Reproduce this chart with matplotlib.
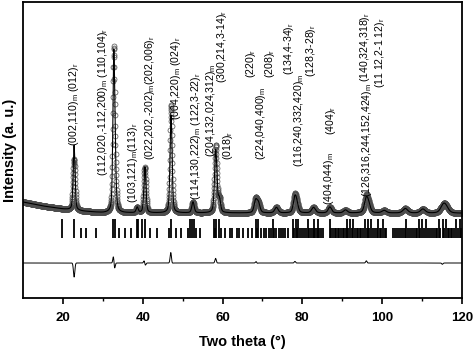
import numpy as np
import matplotlib
matplotlib.use("Agg")
import matplotlib.pyplot as plt

plt.rcParams['font.family'] = ['Liberation Sans', 'DejaVu Sans']
plt.rcParams['mathtext.default'] = 'regular'

# background (2theta, intensity)
bg_x = [10, 15, 20, 25, 30, 40, 60, 80, 100, 120]
bg_y = [960, 920, 890, 868, 852, 850, 850, 850, 850, 848]

# reflections seen in the pattern: position, height above background, fwhm
peak_pos = [22.8, 32.75, 33.1, 38.6, 40.55, 47.1, 52.6, 58.3, 59.2, 68.3, 69.0,
            73.5, 78.1, 78.6, 82.8, 86.9, 90.8, 96.0, 96.6, 100.5, 105.8, 110.2, 115.3, 116.0]
peak_h = [650, 1500, 330, 55, 460, 980, 110, 630, 130, 120, 90,
          55, 140, 80, 55, 60, 30, 130, 70, 25, 45, 40, 70, 45]
peak_w = [0.55, 0.55, 0.6, 0.6, 0.6, 0.6, 0.7, 0.7, 0.7, 0.9, 0.9,
          1.0, 0.9, 0.9, 1.1, 1.0, 1.1, 1.1, 1.1, 1.3, 1.4, 1.4, 1.6, 1.6]

# difference curve features: position, symmetric part, asymmetric part
diff_pos = [22.8, 32.8, 40.5, 47.1, 58.3, 68.5, 78.2, 96.1, 115.0]
diff_sym = [-140, 10, 0, 95, 45, 10, 15, 20, -12]
diff_asym = [10, 80, 30, 40, 10, 10, 5, 8, 5]
diff_base = 350

# Bragg positions, two phases
bragg_r = [19.8, 22.8, 32.6, 33.1, 38.6, 38.9, 39.8, 40.6, 47.1, 51.8, 52.3, 52.8, 57.9,
           58.4, 59.2, 68.3, 69.0, 72.6, 77.6, 78.3, 79.0, 81.3, 83.0, 83.8, 87.0, 91.2,
           92.0, 92.8, 95.8, 96.4, 97.2, 99.0, 100.2, 106.0, 109.2, 110.1, 111.0, 114.2,
           115.2, 116.0, 118.5, 119.4]
bragg_m = [24.5, 25.8, 28.3, 34.1, 35.6, 37.1, 41.8, 43.5, 46.6, 48.3, 49.6, 51.4, 53.3,
           54.4, 58.0, 59.6, 60.6, 61.9, 62.3, 63.6, 64.2, 65.1, 66.5, 67.4, 68.7, 69.6,
           70.3, 71.0, 71.6, 72.2, 73.0, 73.5, 74.1, 74.6, 75.2, 75.7, 76.3, 77.9, 78.7,
           79.4, 79.9, 80.4, 80.9, 81.6, 82.1, 82.6, 83.2, 83.6, 84.1, 84.6, 85.1, 87.3,
           87.7, 88.1, 88.5, 88.9, 89.3, 89.7, 90.1, 90.5, 90.9, 91.5, 92.4, 93.2, 93.6,
           94.0, 94.4, 94.8, 95.3, 96.1, 96.8, 97.6, 98.2, 98.6, 99.4, 99.8, 100.6, 101.0,
           102.8, 103.2, 103.7, 104.2, 104.7, 105.2, 105.7, 106.4, 106.9, 107.4, 107.9,
           108.4, 108.8, 109.6, 110.5, 111.4, 111.9, 112.4, 112.9, 113.4, 113.8, 114.6,
           115.6, 116.4, 116.8, 117.2, 117.6, 118.0, 118.9, 119.8]

# peak labels: text, 2theta, bottom of text
labels = [
    (r"(002,110)$_m$ (012)$_r$", 22.8, 1520),
    (r"(112,020,-112,200)$_m$ (110,104)$_r$", 30.0, 1220),
    (r"(103,121)$_m$(113)$_r$", 37.6, 950),
    (r"(022,202,-202)$_m$(202,006)$_r$", 41.8, 1380),
    (r"(004,220)$_m$ (024)$_r$", 48.3, 1780),
    (r"(114,130,222)$_m$ (122,3-22)$_r$", 53.4, 980),
    (r"(204,132,024,312)$_m$", 57.1, 1410),
    (r"(300,214,3-14)$_r$", 59.8, 2150),
    (r"(018)$_r$", 61.4, 1380),
    (r"(220)$_r$", 67.1, 2200),
    (r"(224,040,400)$_m$", 69.6, 1380),
    (r"(208)$_r$", 71.9, 2200),
    (r"(134,4-34)$_r$", 76.7, 2230),
    (r"(116,240,332,420)$_m$", 79.2, 1310),
    (r"(128,3-28)$_r$", 82.2, 2210),
    (r"(404)$_r$", 87.2, 1630),
    (r"(404,044)$_m$", 86.7, 930),
    (r"(126,316,244,152,424)$_m$", 96.2, 1010),
    (r"(140,324,318)$_r$", 95.8, 2160),
    (r"(11 12,2-1 12)$_r$", 99.4, 2100),
]


def pvoigt(x, c, h, w, eta=0.4):
    g = np.exp(-4 * np.log(2) * ((x - c) / w) ** 2)
    l = 1 / (1 + 4 * ((x - c) / w) ** 2)
    return h * (eta * l + (1 - eta) * g)


tt = np.arange(10, 120.01, 0.04)
calc = np.interp(tt, bg_x, bg_y)
for c, h, w in zip(peak_pos, peak_h, peak_w):
    calc = calc + pvoigt(tt, c, h, w)

diff = np.zeros_like(tt)
for c, s, a in zip(diff_pos, diff_sym, diff_asym):
    g = np.exp(-((tt - c) / 0.25) ** 2)
    diff = diff + s * g - a * (tt - c) / 0.25 * g * 1.6
obs = calc + diff

fig = plt.figure(figsize=(4.74, 3.51), dpi=100)
ax = fig.add_axes([23 / 474, 53 / 351, 439 / 474, 296 / 351])

ax.plot(tt, obs, 'o', mfc='none', mec='0.3', ms=3.6, mew=0.5)
ax.plot(tt, calc, '-', color='black', lw=0.8)
ax.vlines(bragg_r, 600, 790, color='black', lw=1.3)
ax.vlines(bragg_m, 600, 700, color='black', lw=1.3)
ax.plot(tt, diff_base + diff, '-', color='black', lw=0.7)

for s, x, y in labels:
    ax.text(x, y, s, rotation=90, ha='center', va='bottom', fontsize=7.6)

ax.set_xlim(10, 120)
ax.set_ylim(0, 2960)
ax.set_xticks([20, 40, 60, 80, 100, 120])
ax.set_xticks([30, 50, 70, 90, 110], minor=True)
ax.set_yticks([])
ax.tick_params(axis='x', which='major', direction='out', length=4, width=1.2,
               labelsize=9.5, pad=6)
ax.tick_params(axis='x', which='minor', direction='out', length=2.5, width=1)
for lab in ax.get_xticklabels():
    lab.set_fontweight('bold')
for sp in ax.spines.values():
    sp.set_linewidth(1.3)
ax.set_xlabel('Two theta (°)', fontsize=10.5, fontweight='bold', labelpad=8)
ax.set_ylabel('Intensity (a. u.)', fontsize=10.5, fontweight='bold', labelpad=4)

fig.savefig('out.png', dpi=100)
